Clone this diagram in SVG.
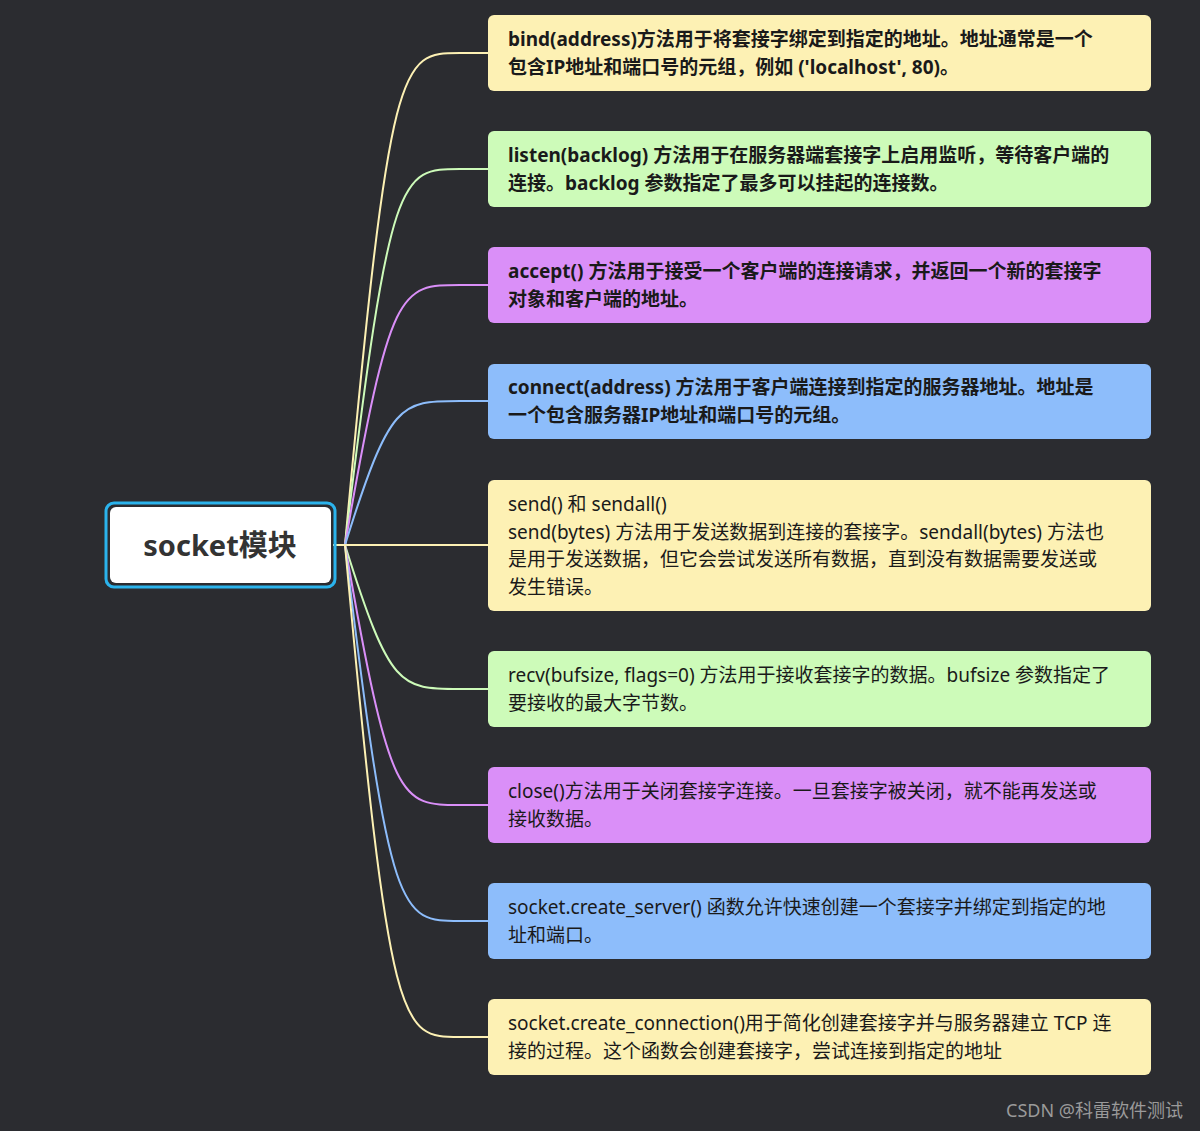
<svg xmlns="http://www.w3.org/2000/svg" width="1200" height="1131" viewBox="0 0 1200 1131">
<style>
.t{font-family:"Noto Sans","Noto Sans CJK SC",sans-serif;font-size:19px;fill:#1a1a1a}
.b{font-weight:bold}
.y{fill:#fdf1b4}.g{fill:#cdfbb9}.p{fill:#da8ff8}.u{fill:#8dbdfb}
.c{fill:none;stroke-width:2}
</style>
<rect width="1200" height="1131" fill="#2b2c30"/>
<g id="connectors">
<path class="c" stroke="#fdf1b4" d="M345,545 C390,53 400,53 460,53 L488,53"/>
<path class="c" stroke="#cdfbb9" d="M345,545 C390,169 400,169 460,169 L488,169"/>
<path class="c" stroke="#da8ff8" d="M345,545 C390,285 400,285 460,285 L488,285"/>
<path class="c" stroke="#8dbdfb" d="M345,545 C390,401 400,401 460,401 L488,401"/>
<path class="c" stroke="#fdf1b4" d="M333,545 L488,545"/>
<path class="c" stroke="#cdfbb9" d="M345,545 C390,689 400,689 460,689 L488,689"/>
<path class="c" stroke="#da8ff8" d="M345,545 C390,805 400,805 460,805 L488,805"/>
<path class="c" stroke="#8dbdfb" d="M345,545 C390,921 400,921 460,921 L488,921"/>
<path class="c" stroke="#fdf1b4" d="M345,545 C390,1037 400,1037 460,1037 L488,1037"/>
</g>
<g id="root">
<rect x="106" y="503" width="229" height="84" rx="8" fill="none" stroke="#2bb3ec" stroke-width="3"/>
<rect x="110" y="507" width="221" height="76" rx="6" fill="#fff"/>
<text x="220" y="556" text-anchor="middle" style="font-family:'Noto Sans','Noto Sans CJK SC',sans-serif;font-size:29px;font-weight:bold;fill:#333">socket模块</text>
</g>
<g id="n1"><rect class="y" x="488" y="15" width="663" height="76" rx="6"/>
<text class="t b" x="508" y="46">bind(address)方法用于将套接字绑定到指定的地址。地址通常是一个</text>
<text class="t b" x="508" y="74">包含IP地址和端口号的元组，例如 ('localhost', 80)。</text></g>
<g id="n2"><rect class="g" x="488" y="131" width="663" height="76" rx="6"/>
<text class="t b" x="508" y="162">listen(backlog) 方法用于在服务器端套接字上启用监听，等待客户端的</text>
<text class="t b" x="508" y="190">连接。backlog 参数指定了最多可以挂起的连接数。</text></g>
<g id="n3"><rect class="p" x="488" y="247" width="663" height="76" rx="6"/>
<text class="t b" x="508" y="278">accept() 方法用于接受一个客户端的连接请求，并返回一个新的套接字</text>
<text class="t b" x="508" y="306">对象和客户端的地址。</text></g>
<g id="n4"><rect class="u" x="488" y="364" width="663" height="75" rx="6"/>
<text class="t b" x="508" y="394">connect(address) 方法用于客户端连接到指定的服务器地址。地址是</text>
<text class="t b" x="508" y="422">一个包含服务器IP地址和端口号的元组。</text></g>
<g id="n5"><rect class="y" x="488" y="480" width="663" height="131" rx="6"/>
<text class="t" x="508" y="511">send() 和 sendall()</text>
<text class="t" x="508" y="539">send(bytes) 方法用于发送数据到连接的套接字。sendall(bytes) 方法也</text>
<text class="t" x="508" y="566">是用于发送数据，但它会尝试发送所有数据，直到没有数据需要发送或</text>
<text class="t" x="508" y="594">发生错误。</text></g>
<g id="n6"><rect class="g" x="488" y="651" width="663" height="76" rx="6"/>
<text class="t" x="508" y="682">recv(bufsize, flags=0) 方法用于接收套接字的数据。bufsize 参数指定了</text>
<text class="t" x="508" y="710">要接收的最大字节数。</text></g>
<g id="n7"><rect class="p" x="488" y="767" width="663" height="76" rx="6"/>
<text class="t" x="508" y="798">close()方法用于关闭套接字连接。一旦套接字被关闭，就不能再发送或</text>
<text class="t" x="508" y="826">接收数据。</text></g>
<g id="n8"><rect class="u" x="488" y="883" width="663" height="76" rx="6"/>
<text class="t" x="508" y="914">socket.create_server() 函数允许快速创建一个套接字并绑定到指定的地</text>
<text class="t" x="508" y="942">址和端口。</text></g>
<g id="n9"><rect class="y" x="488" y="999" width="663" height="76" rx="6"/>
<text class="t" x="508" y="1030">socket.create_connection()用于简化创建套接字并与服务器建立 TCP 连</text>
<text class="t" x="508" y="1058">接的过程。这个函数会创建套接字，尝试连接到指定的地址</text></g>
<text x="1183" y="1117" text-anchor="end" style="font-family:'Noto Sans','Noto Sans CJK SC',sans-serif;font-size:18px;fill:#9a9a9a">CSDN @科雷软件测试</text>
</svg>
